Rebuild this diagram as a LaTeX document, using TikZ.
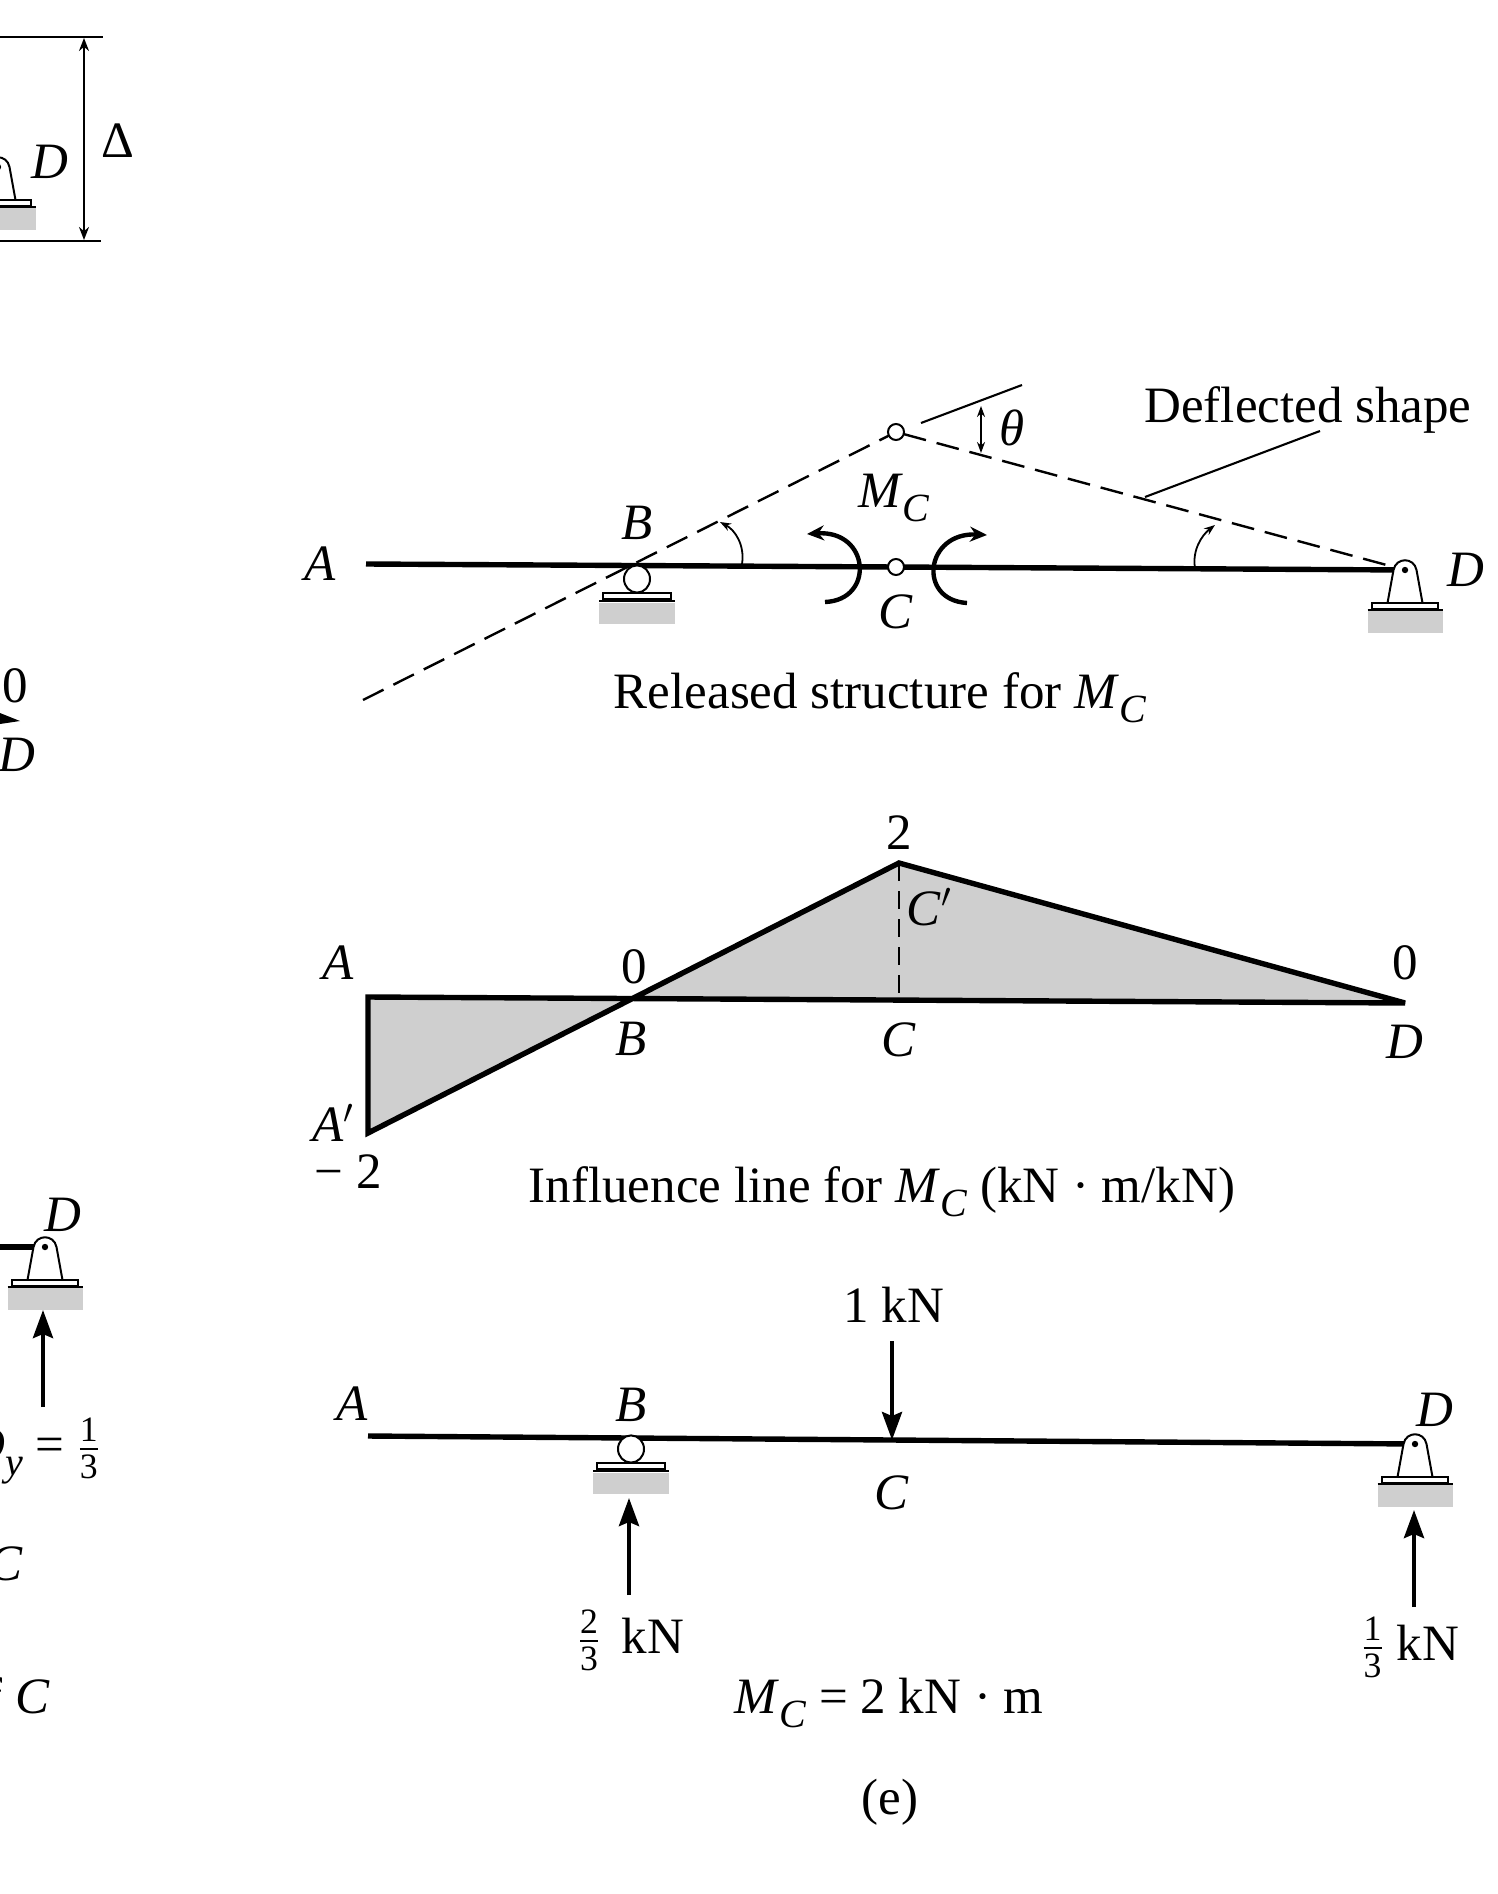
\documentclass[tikz,border=0pt]{standalone}
\usepackage{amsmath}
\usepackage{fontspec}
\setmainfont{Liberation Serif}
\usepackage{tikz}
\usetikzlibrary{arrows.meta}
\usetikzlibrary{positioning}

\newcommand{\subC}{\raisebox{-7pt}{\fontsize{20}{20}\selectfont\textit{C}}}
\newcommand{\suby}{\raisebox{-7pt}{\fontsize{20}{20}\selectfont\textit{y}}}
\newcommand{\thirds}[1]{$\frac{\text{#1}}{\text{3}}$}

\colorlet{hatchgray}{gray!38}

\tikzset{
    every node/.style={inner sep=0pt, outer sep=0pt, font=\fontsize{25.5}{30}\selectfont},
    beam/.style={line width=2.7pt},
    thinline/.style={line width=1.05pt},
    dashline/.style={line width=1.2pt, dash pattern=on 11.5pt off 5.5pt},
    angletip/.style={line width=0.9pt, -{Stealth[length=5.5pt,width=4pt]}},
    momenttip/.style={line width=2.2pt, -{Stealth[length=8.5pt,width=7.5pt]}},
    forcetip/.style={line width=2.1pt, -{Stealth[length=14pt,width=10pt,inset=2pt]}},
    hingept/.style={circle, draw, line width=1pt, fill=white, minimum size=8pt},
    rollersup/.pic={
        \fill[hatchgray] (-38,24) rectangle (38,45);
        \draw[line width=1pt, fill=white] (0,0) circle [x radius=6.5pt, y radius=6.8pt];
        \draw[line width=1pt, fill=white] (-34,14) rectangle (34,20);
        \draw[line width=1.2pt] (-38,22) -- (38,22);
    },
    pinsup/.pic={
        \fill[hatchgray] (-37.5,41) rectangle (37.5,63);
        \draw[line width=1pt, fill=white] (-17.5,33) -- (-11.5,0)
            .. controls (-9,-13) and (9,-13) .. (11.5,0) -- (17.5,33);
        \fill (0,0) circle [radius=1.6pt];
        \draw[line width=1pt, fill=white] (-33,33) rectangle (33,39);
        \draw[line width=1.2pt] (-37.5,40) -- (37.5,40);
    },
}

\begin{document}
\begin{tikzpicture}[x=0.5pt, y=-0.5pt]
    \useasboundingbox (0,0) rectangle (1498,1894);
    \clip (0,0) rectangle (1498,1894);

    % part of the figure to the left
    \coordinate (tl) at (0,37); \coordinate (tr) at (103,37);
    \coordinate (bl) at (0,241); \coordinate (br) at (101,241);
    \coordinate (ut) at (84,38); \coordinate (ub) at (84,240);
    \draw[thinline] (tl) -- (tr); \draw[thinline] (bl) -- (br);
    \draw[line width=1.05pt, {Stealth[length=6.5pt,width=5pt]}-{Stealth[length=6.5pt,width=5pt]}] (ut) -- (ub);
    \node (delta) at (118,141) {Δ}; %
    \node (dtop) at (50,162) {\textit{D}}; %
    \pic at (-2,167) {pinsup};

    \node (zerol) at (15,686) {0}; %
    \node (dmid) at (17,755) {\textit{D}}; %
    \fill (0,713) -- (20,721) -- (0,724) -- cycle;

    \coordinate (lb0) at (0,1247); \coordinate (ld) at (45,1247);
    \draw[beam] (lb0) -- (ld);
    \pic at (ld) {pinsup};
    \node (dlow) at (63,1215) {\textit{D}}; %
    \coordinate (lf0) at (43,1407); \coordinate (lf1) at (43,1310);
    \draw[forcetip] (lf0) -- (lf1);
    \node[anchor=base east] (dyval) at (100,1461) {\textit{D}\suby\ = \thirds{1}}; %
    \node (cleft) at (6,1564) {\textit{C}}; %
    \node[anchor=base east] (ofc) at (50,1713) {f \textit{C}}; %

    % released structure
    \coordinate (a1) at (366,564);
    \coordinate (b1) at (637,566);
    \coordinate (d1) at (1405,570);
    \coordinate (e1) at (363,700);
    \node[hingept] (c1) at (896,567) {}; %
    \node[hingept] (h1) at (896,432) {}; %
    \draw[beam] (a1) -- (c1) -- (d1);
    \draw[dashline] (e1) -- (h1);
    \draw[dashline] (h1) -- (d1);
    \pic at (637,579) {rollersup};
    \pic at (d1) {pinsup};

    \node[left=15pt of a1] (la1) {\textit{A}}; %
    \node[above=13pt of b1] (lb1) {\textit{B}}; %
    \node[below=10pt of c1] (lc1) {\textit{C}}; %
    \node[right=21pt of d1] (ld1) {\textit{D}}; %
    \node[anchor=base west] (mc1) at (858,507) {\textit{M}\subC}; %

    \coordinate (arcb0) at (742,564); \coordinate (arcb1) at (720,522);
    \draw[angletip] (arcb0) .. controls (745,545) and (735,530) .. (arcb1);
    \coordinate (arcd0) at (1195,568); \coordinate (arcd1) at (1215,525);
    \draw[angletip] (arcd0) .. controls (1192,550) and (1202,535) .. (arcd1);
    \coordinate (ml0) at (825,602); \coordinate (ml1) at (807,534);
    \draw[momenttip] (ml0) .. controls (875,600) and (870,530) .. (ml1);
    \coordinate (mr0) at (967,603); \coordinate (mr1) at (987,535);
    \draw[momenttip] (mr0) .. controls (917,600) and (925,532) .. (mr1);

    \coordinate (t0) at (921,423); \coordinate (t1) at (1022,385);
    \draw[thinline] (t0) -- (t1);
    \coordinate (th0) at (981,406); \coordinate (th1) at (981,453);
    \draw[line width=0.9pt, {Stealth[length=5.5pt,width=4pt]}-{Stealth[length=5.5pt,width=4pt]}] (th0) -- (th1);
    \node (theta) at (1012,428) {\textit{θ}}; %

    \node[anchor=base] (defl) at (1308,422) {Deflected shape}; %
    \coordinate (df0) at (1320,431); \coordinate (df1) at (1145,497);
    \draw[thinline] (df0) -- (df1);
    \node[anchor=base] (capa) at (880,708) {Released structure for \textit{M}\subC}; %

    % influence line
    \coordinate (a2) at (368,997);
    \coordinate (a2p) at (368,1133);
    \coordinate (b2) at (634,999);
    \coordinate (c2) at (899,1000);
    \coordinate (c2p) at (899,863);
    \coordinate (d2) at (1405,1003);
    \fill[hatchgray] (a2) -- (a2p) -- (c2p) -- (d2) -- cycle;
    \draw[beam, miter limit=3] (a2p) -- (c2p) -- (d2) -- (a2) -- cycle;
    \draw[dashline, dash pattern=on 9pt off 5pt, line width=1pt] (c2p) -- (c2);

    \node[above=9pt of a2, xshift=-15pt] (la2) {\textit{A}}; %
    \node[above=7.5pt of b2] (zb2) {0}; %
    \node[below=11.5pt of b2, xshift=-1.5pt] (lb2) {\textit{B}}; %
    \node[below=11.5pt of c2] (lc2) {\textit{C}}; %
    \node[above=7pt of c2p] (two2) {2}; %
    \node (lc2p) at (929,907) {\textit{C}$'$}; %
    \node[above=11.5pt of d2] (zd2) {0}; %
    \node[below=11pt of d2] (ld2) {\textit{D}}; %
    \node (la2p) at (333,1123) {\textit{A}$'$}; %
    \node (mtwo) at (348,1172) {− 2}; %
    \node[anchor=base] (capb) at (882,1202) {Influence line for \textit{M}\subC\ (kN · m/kN)}; %

    % equilibrium of the beam
    \coordinate (a3) at (368,1436);
    \coordinate (b3) at (631,1438);
    \coordinate (c3) at (892,1440);
    \coordinate (d3) at (1415,1444);
    \draw[beam] (a3) -- (c3) -- (d3);
    \pic at (631,1449) {rollersup};
    \pic at (d3) {pinsup};

    \coordinate (p0) at (892,1341);
    \draw[forcetip] (p0) -- (c3);
    \node[anchor=base] (pload) at (894,1322) {1 kN}; %
    \coordinate (rb0) at (629,1595); \coordinate (rb1) at (629,1498);
    \draw[forcetip] (rb0) -- (rb1);
    \node[anchor=base east] (rbval) at (684,1653) {\thirds{2}\ \,kN}; %
    \coordinate (rd0) at (1414,1607); \coordinate (rd1) at (1414,1510);
    \draw[forcetip] (rd0) -- (rd1);
    \node[anchor=base east] (rdval) at (1459,1660) {\thirds{1}\ kN}; %

    \node[left=2pt of a3, yshift=16pt, xshift=2pt] (la3) {\textit{A}}; %
    \node[above=8pt of b3] (lb3) {\textit{B}}; %
    \node[below=18pt of c3] (lc3) {\textit{C}}; %
    \node (ld3) at (1435,1410) {\textit{D}}; %
    \node[anchor=base] (mcval) at (889,1713) {\textit{M}\subC\ = 2 kN · m}; %
    \node (tag) at (890,1802) {(e)}; %
\end{tikzpicture}
\end{document}
